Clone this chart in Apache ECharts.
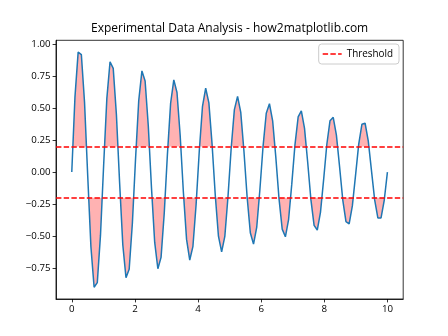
<!DOCTYPE html>
<html>
<head>
<meta charset="utf-8">
<script src="https://cdn.jsdelivr.net/npm/echarts@6/dist/echarts.min.js"></script>
<style>
html,body{margin:0;padding:0;background:#fff;}
#chart{width:448px;height:336px;}
</style>
</head>
<body>
<div id="chart"></div>
<script>
const xs = [0, 0.1010, 0.2020, 0.3030, 0.4040, 0.5051, 0.6061, 0.7071, 0.8081, 0.9091,
  1.0101, 1.1111, 1.2121, 1.3131, 1.4141, 1.5152, 1.6162, 1.7172, 1.8182, 1.9192,
  2.0202, 2.1212, 2.2222, 2.3232, 2.4242, 2.5253, 2.6263, 2.7273, 2.8283, 2.9293,
  3.0303, 3.1313, 3.2323, 3.3333, 3.4343, 3.5354, 3.6364, 3.7374, 3.8384, 3.9394,
  4.0404, 4.1414, 4.2424, 4.3434, 4.4444, 4.5455, 4.6465, 4.7475, 4.8485, 4.9495,
  5.0505, 5.1515, 5.2525, 5.3535, 5.4545, 5.5556, 5.6566, 5.7576, 5.8586, 5.9596,
  6.0606, 6.1616, 6.2626, 6.3636, 6.4646, 6.5657, 6.6667, 6.7677, 6.8687, 6.9697,
  7.0707, 7.1717, 7.2727, 7.3737, 7.4747, 7.5758, 7.6768, 7.7778, 7.8788, 7.9798,
  8.0808, 8.1818, 8.2828, 8.3838, 8.4848, 8.5859, 8.6869, 8.7879, 8.8889, 8.9899,
  9.0909, 9.1919, 9.2929, 9.3939, 9.4949, 9.5960, 9.6970, 9.7980, 9.8990, 10];
const ys = [0.000, 0.587, 0.936, 0.917, 0.545, -0.030, -0.582, -0.898, -0.862, -0.494,
  0.057, 0.575, 0.861, 0.809, 0.447, -0.082, -0.567, -0.824, -0.758, -0.401,
  0.103, 0.558, 0.789, 0.711, 0.360, -0.123, -0.547, -0.754, -0.665, -0.321,
  0.140, 0.537, 0.719, 0.621, 0.285, -0.155, -0.525, -0.686, -0.579, -0.251,
  0.168, 0.513, 0.654, 0.540, 0.219, -0.179, -0.500, -0.622, -0.502, -0.190,
  0.188, 0.487, 0.591, 0.466, 0.163, -0.196, -0.473, -0.562, -0.432, -0.138,
  0.203, 0.459, 0.533, 0.400, 0.115, -0.208, -0.445, -0.505, -0.370, -0.094,
  0.212, 0.430, 0.478, 0.341, 0.075, -0.215, -0.416, -0.452, -0.314, -0.057,
  0.217, 0.401, 0.427, 0.288, 0.041, -0.218, -0.387, -0.404, -0.264, -0.026,
  0.218, 0.373, 0.381, 0.242, 0.012, -0.217, -0.358, -0.358, -0.220, 0.000];
const threshold = 0.2;
const xTicks = [0, 2, 4, 6, 8, 10];
const xTickLabels = ['0', '2', '4', '6', '8', '10'];
const yTicks = [-0.75, -0.5, -0.25, 0, 0.25, 0.5, 0.75, 1.0];
const yTickLabels = ['\u22120.75', '\u22120.50', '\u22120.25', '0.00', '0.25', '0.50', '0.75', '1.00'];
const titleText = 'Experimental Data Analysis - how2matplotlib.com';
const legendName = 'Threshold';

const FONT = "'Open Sans', 'DejaVu Sans', sans-serif";

function fillRuns(api, sign) {
  const level = sign * threshold;
  const out = [];
  let pts = null;
  const cross = (i) => {
    const t = (level - ys[i - 1]) / (ys[i] - ys[i - 1]);
    return api.coord([xs[i - 1] + t * (xs[i] - xs[i - 1]), level]);
  };
  for (let i = 0; i < xs.length; i++) {
    const inside = sign * (ys[i] - level) > 0;
    if (inside) {
      if (!pts) {
        pts = [];
        pts.push(i > 0 ? cross(i) : api.coord([xs[i], level]));
      }
      pts.push(api.coord([xs[i], ys[i]]));
    } else if (pts) {
      pts.push(cross(i));
      out.push(pts);
      pts = null;
    }
  }
  if (pts) { pts.push(api.coord([xs[xs.length - 1], level])); out.push(pts); }
  return out;
}

const chart = echarts.init(document.getElementById('chart'), null, {renderer: 'canvas'});
const option = {
  animation: false,
  backgroundColor: '#fff',
  title: {
    text: titleText,
    left: 229.6,
    top: 22.5,
    textAlign: 'center',
    padding: 0,
    textStyle: {fontSize: 12, fontWeight: 'normal', color: '#000', fontFamily: FONT}
  },
  legend: {
    data: [legendName],
    right: 49,
    top: 44,
    orient: 'vertical',
    icon: 'path://M0,0h5.4v1.5h-5.4z M7.7,0h5.4v1.5h-5.4z M15.4,0h3.6v1.5h-3.6z',
    itemWidth: 19,
    itemHeight: 1.5,
    itemGap: 0,
    padding: [5, 6, 5, 4],
    backgroundColor: '#fff',
    borderColor: '#cccccc',
    borderWidth: 1,
    borderRadius: 3,
    textStyle: {fontSize: 9.9, color: '#000', fontFamily: FONT}
  },
  grid: {
    left: 56, right: 44.8, top: 40.3, bottom: 37,
    show: true, borderColor: '#000', borderWidth: 0.8, backgroundColor: 'transparent'
  },
  xAxis: {
    type: 'value',
    min: -0.5, max: 10.5,
    axisLine: {show: true, onZero: false, lineStyle: {color: '#000', width: 0.8}},
    axisTick: {show: true, customValues: xTicks, length: 3.4, lineStyle: {color: '#000', width: 0.8}},
    axisLabel: {
      customValues: xTicks, margin: 5.5, fontSize: 9.7, color: '#000', fontFamily: FONT,
      formatter: (v) => { const k = xTicks.indexOf(v); return k >= 0 ? xTickLabels[k] : ''; }
    },
    splitLine: {show: false}
  },
  yAxis: {
    type: 'value',
    min: -0.99, max: 1.028,
    axisLine: {show: true, onZero: false, lineStyle: {color: '#000', width: 0.8}},
    axisTick: {show: true, customValues: yTicks, length: 3.4, lineStyle: {color: '#000', width: 0.8}},
    axisLabel: {
      customValues: yTicks, margin: 5.5, fontSize: 9.7, color: '#000', fontFamily: FONT,
      formatter: (v) => {
        let k = -1;
        yTicks.forEach((t, j) => { if (Math.abs(t - v) < 1e-6) k = j; });
        return k >= 0 ? yTickLabels[k] : '';
      }
    },
    splitLine: {show: false}
  },
  series: [
    {
      type: 'custom',
      coordinateSystem: 'cartesian2d',
      silent: true,
      z: 1,
      data: [[0, 0]],
      renderItem: function (params, api) {
        const children = [];
        [1, -1].forEach((s) => {
          fillRuns(api, s).forEach((pts) => {
            children.push({type: 'polygon', shape: {points: pts}, style: {fill: 'rgba(255,0,0,0.3)', stroke: null}});
          });
        });
        return {type: 'group', children: children};
      }
    },
    {
      type: 'line',
      name: 'signal',
      data: xs.map((x, i) => [x, ys[i]]),
      symbol: 'none',
      z: 3,
      color: '#1f77b4',
      lineStyle: {color: '#1f77b4', width: 1.5},
      silent: true
    },
    {
      type: 'line',
      name: legendName,
      data: [],
      symbol: 'none',
      z: 4,
      itemStyle: {color: 'red'},
      lineStyle: {color: 'red', width: 1.5, type: [5.4, 2.3]},
      markLine: {
        symbol: ['none', 'none'],
        silent: true,
        animation: false,
        label: {show: false},
        lineStyle: {color: 'red', width: 1.5, type: [5.4, 2.3]},
        data: [{yAxis: threshold}, {yAxis: -threshold}]
      }
    }
  ]
};
chart.setOption(option);
</script>
</body>
</html>
